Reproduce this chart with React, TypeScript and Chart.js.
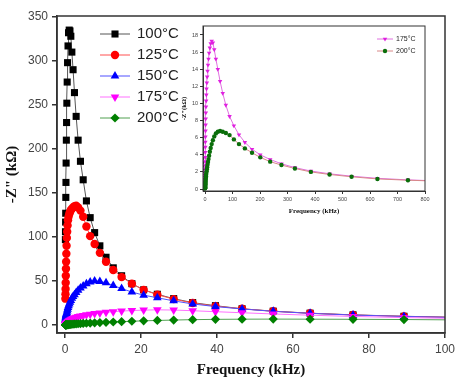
import React, { useEffect, useRef } from 'react';
import { Chart, registerables } from 'chart.js';

Chart.register(...registerables);

// Frequency grid (kHz), shared by all series
const freq = [0.11, 0.13, 0.16, 0.19, 0.22, 0.26, 0.30, 0.36, 0.42, 0.49, 0.58, 0.68, 0.80, 0.94, 1.11, 1.31, 1.54, 1.81, 2.13, 2.50, 2.94, 3.46, 4.07, 4.79, 5.64, 6.63, 7.80, 9.18, 10.8, 12.7, 14.9, 17.6, 20.7, 24.3, 28.6, 33.6, 39.6, 46.6, 54.8, 64.5, 75.8, 89.2, 105, 123.5, 145, 171, 201, 237, 278, 327, 385, 453, 533, 627, 738, 868];

// -Z'' (kOhm)
const z100 = [97, 106, 117, 127, 145, 162, 184, 210, 230, 252, 276, 298, 317, 332, 335, 334, 328, 310, 290, 264, 237, 210, 186, 165, 141, 122, 105, 90, 77, 65, 56, 47, 40, 35, 30, 25.5, 22, 18.5, 15.8, 13.5, 11.6, 10, 8.6, 7.4, null, null, null, null, null, null, null, null, null, null, null, null];
const z125 = [30, 35, 41, 48, 56, 64, 72, 81, 90, 99, 106, 113, 119, 123, 126, 128.5, 130.5, 132, 133.5, 135, 135.5, 133.5, 130, 123, 112, 101, 92, 82, 72, 62.5, 54.5, 47, 40, 34.5, 29.5, 25, 21.5, 18.5, 15.7, 13.4, 11.5, 9.9, 8.5, 7.3, null, null, null, null, null, null, null, null, null, null, null, null];
const z150 = [5, 6, 7, 8, 9, 10, 11, 12, 13, 14, 16, 18, 20, 22, 24, 26, 28, 30.5, 32.5, 34.5, 37, 39.5, 42, 44.5, 47, 49, 50, 49.5, 48, 45, 41.5, 37.5, 34, 31, 27.5, 24, 21, 18.3, 15.6, 13.3, 11.4, 9.8, 8.4, 7.2, null, null, null, null, null, null, null, null, null, null, null, null];
const z175 = [0.5, 0.6, 0.75, 0.9, 1.05, 1.25, 1.45, 1.7, 2.0, 2.35, 2.75, 3.2, 3.7, 4.3, 4.9, 5.5, 6.1, 6.8, 7.5, 8.2, 8.9, 9.6, 10.3, 11.0, 11.7, 12.4, 13.1, 13.8, 14.5, 15.2, 15.9, 16.5, 17.0, 17.3, 17.1, 16.3, 15.2, 14.0, 12.6, 11.2, 9.8, 8.5, 7.4, 6.35, 5.45, 4.65, 4.0, 3.45, 2.95, 2.5, 2.1, 1.78, 1.5, 1.25, 1.07, 0.92];
const z200 = [0.08, 0.09, 0.11, 0.13, 0.15, 0.18, 0.21, 0.25, 0.29, 0.33, 0.38, 0.44, 0.5, 0.57, 0.65, 0.74, 0.84, 0.95, 1.07, 1.2, 1.35, 1.5, 1.67, 1.86, 2.07, 2.3, 2.55, 2.85, 3.15, 3.5, 3.9, 4.35, 4.8, 5.25, 5.7, 6.15, 6.5, 6.7, 6.78, 6.7, 6.55, 6.3, 5.8, 5.25, 4.75, 4.24, 3.7, 3.2, 2.8, 2.4, 2.0, 1.7, 1.43, 1.18, 1.03, 0.9];

const mainLabels = ['100°C', '125°C', '150°C', '175°C', '200°C'];
const insetLabels = ['175°C', '200°C'];
const mainXTicks = [0, 20, 40, 60, 80, 100];
const mainYTicks = [0, 50, 100, 150, 200, 250, 300, 350];
const insetXTicks = [0, 100, 200, 300, 400, 500, 600, 700, 800];
const insetYTicks = [0, 2, 4, 6, 8, 10, 12, 14, 16, 18];

const mainStyles = [
  { color: '#000000', line: '#555555', style: 'rect', r: 5, rot: 0 },
  { color: '#ff0000', line: '#ff5050', style: 'circle', r: 4.2, rot: 0 },
  { color: '#0000ff', line: '#5050ff', style: 'triangle', r: 5, rot: 0 },
  { color: '#ff00ff', line: '#ff70ff', style: 'triangle', r: 5, rot: 180 },
  { color: '#008000', line: '#50a050', style: 'rectRot', r: 4.6, rot: 0 },
];
const insetStyles = [
  { color: '#e020e0', line: '#e070e0', style: 'triangle', r: 2.6, rot: 180 },
  { color: '#0a6e0a', line: '#d88888', style: 'circle', r: 2.2, rot: 0 },
];

function toPts(ys: (number | null)[]) {
  return freq.map((f, i) => ({ x: f, y: ys[i] }));
}

function drawMarker(ctx: CanvasRenderingContext2D, style: string, x: number, y: number, r: number, rot: number, color: string) {
  ctx.save();
  ctx.fillStyle = color;
  ctx.beginPath();
  if (style === 'rect') {
    const s = r * Math.SQRT1_2;
    ctx.rect(x - s, y - s, 2 * s, 2 * s);
  } else if (style === 'circle') {
    ctx.arc(x, y, r, 0, Math.PI * 2);
  } else if (style === 'triangle') {
    const a = (rot * Math.PI) / 180;
    for (let k = 0; k < 3; k++) {
      const ang = a + (k * 2 * Math.PI) / 3;
      const px = x + Math.sin(ang) * r;
      const py = y - Math.cos(ang) * r;
      if (k === 0) ctx.moveTo(px, py); else ctx.lineTo(px, py);
    }
    ctx.closePath();
  } else {
    ctx.moveTo(x, y - r);
    ctx.lineTo(x + r, y);
    ctx.lineTo(x, y + r);
    ctx.lineTo(x - r, y);
    ctx.closePath();
  }
  ctx.fill();
  ctx.restore();
}

function makeFrame(lw: number) {
  return {
    id: 'frame' + lw,
    afterDraw(chart: any) {
      const { ctx, chartArea: a } = chart;
      ctx.save();
      ctx.strokeStyle = '#333';
      ctx.lineWidth = lw;
      ctx.strokeRect(a.left, a.top, a.right - a.left, a.bottom - a.top);
      ctx.restore();
    },
  };
}

function makeLegend(labels: string[], styles: any[], x0: number, x1: number, tx: number, y0: number, dy: number, font: string, scale: number) {
  return {
    id: 'customLegend' + labels.length,
    afterDraw(chart: any) {
      const ctx = chart.ctx as CanvasRenderingContext2D;
      ctx.save();
      labels.forEach((lab, i) => {
        const st = styles[i];
        const y = y0 + dy * i;
        ctx.strokeStyle = st.line;
        ctx.lineWidth = 1;
        ctx.beginPath();
        ctx.moveTo(x0, y);
        ctx.lineTo(x1, y);
        ctx.stroke();
        drawMarker(ctx, st.style, (x0 + x1) / 2, y, st.r * scale, st.rot, st.color);
        ctx.fillStyle = '#222';
        ctx.font = font;
        ctx.textBaseline = 'middle';
        ctx.textAlign = 'left';
        ctx.fillText(lab, tx, y);
      });
      ctx.restore();
    },
  };
}

function axis(opts: any) {
  const { min, max, ticks, size, isX, tickFont, tickLen, tickPad, title, titleFont, titlePad, borderW } = opts;
  return {
    type: 'linear',
    min,
    max,
    afterBuildTicks: (s: any) => {
      s.ticks = ticks.map((v: number) => ({ value: v }));
    },
    afterFit: (s: any) => {
      if (isX) s.height = size; else s.width = size;
    },
    grid: { display: true, drawOnChartArea: false, drawTicks: true, tickLength: tickLen, color: '#333', lineWidth: borderW },
    border: { display: true, color: '#333', width: borderW },
    ticks: { font: tickFont, color: '#444', padding: tickPad, maxRotation: 0, autoSkip: false },
    title: { display: true, text: title, font: titleFont, color: '#111', padding: titlePad },
  };
}

export default function App() {
  const mainRef = useRef<HTMLCanvasElement>(null);
  const insetRef = useRef<HTMLCanvasElement>(null);

  useEffect(() => {
    const seriesMain = [z100, z125, z150, z175, z200];
    const mainChart = new Chart(mainRef.current as HTMLCanvasElement, {
      type: 'line',
      data: {
        datasets: seriesMain.map((ys, i) => ({
          label: mainLabels[i],
          data: toPts(ys),
          borderColor: mainStyles[i].line,
          backgroundColor: mainStyles[i].color,
          pointBackgroundColor: mainStyles[i].color,
          pointBorderColor: mainStyles[i].color,
          pointBorderWidth: 0,
          pointStyle: mainStyles[i].style,
          pointRotation: mainStyles[i].rot,
          pointRadius: mainStyles[i].r,
          borderWidth: 1,
          tension: 0,
          order: 5 - i,
        })),
      } as any,
      options: {
        responsive: false,
        animation: false,
        devicePixelRatio: 1,
        events: [],
        layout: { padding: { left: 0, top: 16, right: 29, bottom: 0 } },
        plugins: { legend: { display: false }, tooltip: { enabled: false } },
        scales: {
          x: axis({
            min: -2.1, max: 100, ticks: mainXTicks, size: 55, isX: true,
            tickFont: { family: 'Liberation Sans', size: 12 }, tickLen: 5, tickPad: 4,
            title: 'Frequency (kHz)', titleFont: { family: 'Liberation Serif', size: 15, weight: 'bold' },
            titlePad: { top: 0, bottom: 9 }, borderW: 1.5,
          }),
          y: axis({
            min: -9, max: 351, ticks: mainYTicks, size: 57, isX: false,
            tickFont: { family: 'Liberation Sans', size: 12 }, tickLen: 5, tickPad: 4,
            title: '-Z" (kΩ)', titleFont: { family: 'Liberation Serif', size: 15, weight: 'bold' },
            titlePad: { top: 3, bottom: 0 }, borderW: 1.5,
          }),
        },
      } as any,
      plugins: [makeFrame(1.5), makeLegend(mainLabels, mainStyles, 100, 130, 137, 34, 21, '15px "Liberation Sans"', 1)],
    });

    const seriesInset = [z175, z200];
    const insetChart = new Chart(insetRef.current as HTMLCanvasElement, {
      type: 'line',
      data: {
        datasets: seriesInset.map((ys, i) => ({
          label: insetLabels[i],
          data: toPts(ys),
          borderColor: insetStyles[i].line,
          backgroundColor: insetStyles[i].color,
          pointBackgroundColor: insetStyles[i].color,
          pointBorderColor: insetStyles[i].color,
          pointBorderWidth: 0,
          pointStyle: insetStyles[i].style,
          pointRotation: insetStyles[i].rot,
          pointRadius: insetStyles[i].r,
          borderWidth: 1,
          tension: 0,
          order: 2 - i,
        })),
      } as any,
      options: {
        responsive: false,
        animation: false,
        devicePixelRatio: 1,
        events: [],
        layout: { padding: { left: 0, top: 6, right: 15, bottom: 0 } },
        plugins: { legend: { display: false }, tooltip: { enabled: false } },
        scales: {
          x: axis({
            min: -7.3, max: 800, ticks: insetXTicks, size: 34, isX: true,
            tickFont: { family: 'Liberation Sans', size: 5.5 }, tickLen: 3, tickPad: 2,
            title: 'Frequency (kHz)', titleFont: { family: 'Liberation Serif', size: 7, weight: 'bold' },
            titlePad: { top: 0, bottom: 10 }, borderW: 1,
          }),
          y: axis({
            min: -0.23, max: 19.05, ticks: insetYTicks, size: 33, isX: false,
            tickFont: { family: 'Liberation Sans', size: 5.5 }, tickLen: 3, tickPad: 2,
            title: '-Z"(kΩ)', titleFont: { family: 'Liberation Serif', size: 6.5, weight: 'bold' },
            titlePad: { top: 10, bottom: 0 }, borderW: 1,
          }),
        },
      } as any,
      plugins: [makeFrame(1), makeLegend(insetLabels, insetStyles, 207, 223, 226, 19, 12, '7px "Liberation Sans"', 1)],
    });

    return () => {
      mainChart.destroy();
      insetChart.destroy();
    };
  }, []);

  return (
    <div style={{ position: 'fixed', left: 0, top: 0, width: 474, height: 388, background: '#fff' }}>
      <canvas ref={mainRef} width={474} height={388} style={{ position: 'absolute', left: 0, top: 0 }} />
      <canvas ref={insetRef} width={270} height={205} style={{ position: 'absolute', left: 170, top: 20 }} />
    </div>
  );
}
